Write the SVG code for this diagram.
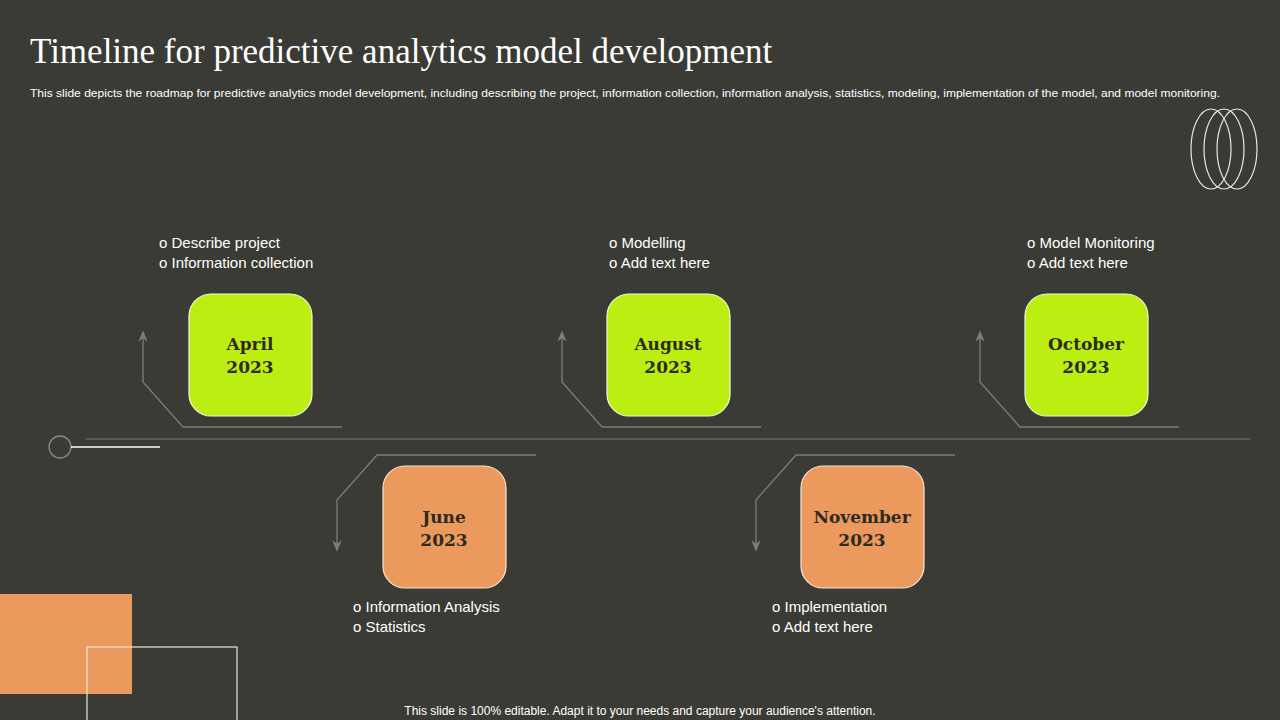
<svg xmlns="http://www.w3.org/2000/svg" width="1280" height="720" viewBox="0 0 1280 720">
<defs>
<style>
.g{fill:#bdee12;stroke:#f4f7e0;stroke-width:1.2}
.o{fill:#eb995c;stroke:#f8e6d6;stroke-width:1.2}
.bt{font-family:"DejaVu Serif","Liberation Serif",serif;font-weight:bold;font-size:17px;fill:#2b2b22;text-anchor:middle}
.t{font-family:"Liberation Sans",Arial,sans-serif;font-size:15px;fill:#ffffff}
.c{fill:none;stroke:#7d7d76;stroke-width:1.3}
</style>
<marker id="a" viewBox="0 0 10 10" refX="5" refY="5" markerWidth="9" markerHeight="9" orient="auto-start-reverse"><path d="M0,1 L10,5 L0,9 L3,5 Z" fill="#7d7d76"/></marker>
</defs>
<rect width="1280" height="720" fill="#3b3b35"/>
<text x="30" y="63" font-family="Liberation Serif,serif" font-size="35" fill="#fff">Timeline for predictive analytics model development</text>
<text x="30" y="97" font-family="Liberation Sans,Arial,sans-serif" font-size="10.5" fill="#fff" textLength="1190" lengthAdjust="spacingAndGlyphs">This slide depicts the roadmap for predictive analytics model development, including describing the project, information collection, information analysis, statistics, modeling, implementation of the model, and model monitoring.</text>
<g fill="none" stroke="#e8e8e0" stroke-width="1.2">
<ellipse cx="1211" cy="149" rx="20" ry="40"/><ellipse cx="1224" cy="149" rx="20" ry="40"/><ellipse cx="1237" cy="149" rx="20" ry="40"/>
</g>
<rect x="0" y="594" width="132" height="100" fill="#eb995c"/>
<rect x="87" y="647" width="150" height="80" fill="none" stroke="#e8e8e0" stroke-width="1.2"/>
<text x="640" y="715" font-family="Liberation Sans,Arial,sans-serif" font-size="12" fill="#fff" text-anchor="middle">This slide is 100% editable. Adapt it to your needs and capture your audience's attention.</text>
<g id="connectors">
<line x1="86" y1="439" x2="1250" y2="439" stroke="#7d7d76" stroke-width="1.2"/>
<circle cx="60" cy="447" r="11" fill="none" stroke="#8a8a83" stroke-width="1.3"/>
<line x1="71" y1="447" x2="160" y2="447" stroke="#fff" stroke-width="1.3"/>
<path class="c" d="M342,427 H183 L143,382 V336" marker-end="url(#a)"/>
<path class="c" d="M761,427 H602 L562,382 V336" marker-end="url(#a)"/>
<path class="c" d="M1179,427 H1020 L980,382 V336" marker-end="url(#a)"/>
<path class="c" d="M536,455 H377 L337,500 V546" marker-end="url(#a)"/>
<path class="c" d="M955,455 H796 L756,500 V546" marker-end="url(#a)"/>
</g>
<g id="april"><rect class="g" x="189" y="294" width="123" height="122" rx="22"/><text class="bt" x="250" y="350">April</text><text class="bt" x="250" y="373">2023</text></g>
<g id="august"><rect class="g" x="607" y="294" width="123" height="122" rx="22"/><text class="bt" x="668" y="350">August</text><text class="bt" x="668" y="373">2023</text></g>
<g id="october"><rect class="g" x="1025" y="294" width="123" height="122" rx="22"/><text class="bt" x="1086" y="350">October</text><text class="bt" x="1086" y="373">2023</text></g>
<g id="june"><rect class="o" x="383" y="466" width="123" height="122" rx="22"/><text class="bt" x="444" y="523">June</text><text class="bt" x="444" y="546">2023</text></g>
<g id="november"><rect class="o" x="801" y="466" width="123" height="122" rx="22"/><text class="bt" x="862" y="523">November</text><text class="bt" x="862" y="546">2023</text></g>
<g id="labels">
<text class="t" x="159" y="248">o  Describe project</text><text class="t" x="159" y="268">o  Information  collection</text>
<text class="t" x="609" y="248">o  Modelling</text><text class="t" x="609" y="268">o  Add text here</text>
<text class="t" x="1027" y="248">o  Model Monitoring</text><text class="t" x="1027" y="268">o  Add text here</text>
<text class="t" x="353" y="612">o  Information  Analysis</text><text class="t" x="353" y="632">o  Statistics</text>
<text class="t" x="772" y="612">o  Implementation</text><text class="t" x="772" y="632">o  Add text here</text>
</g>
</svg>
